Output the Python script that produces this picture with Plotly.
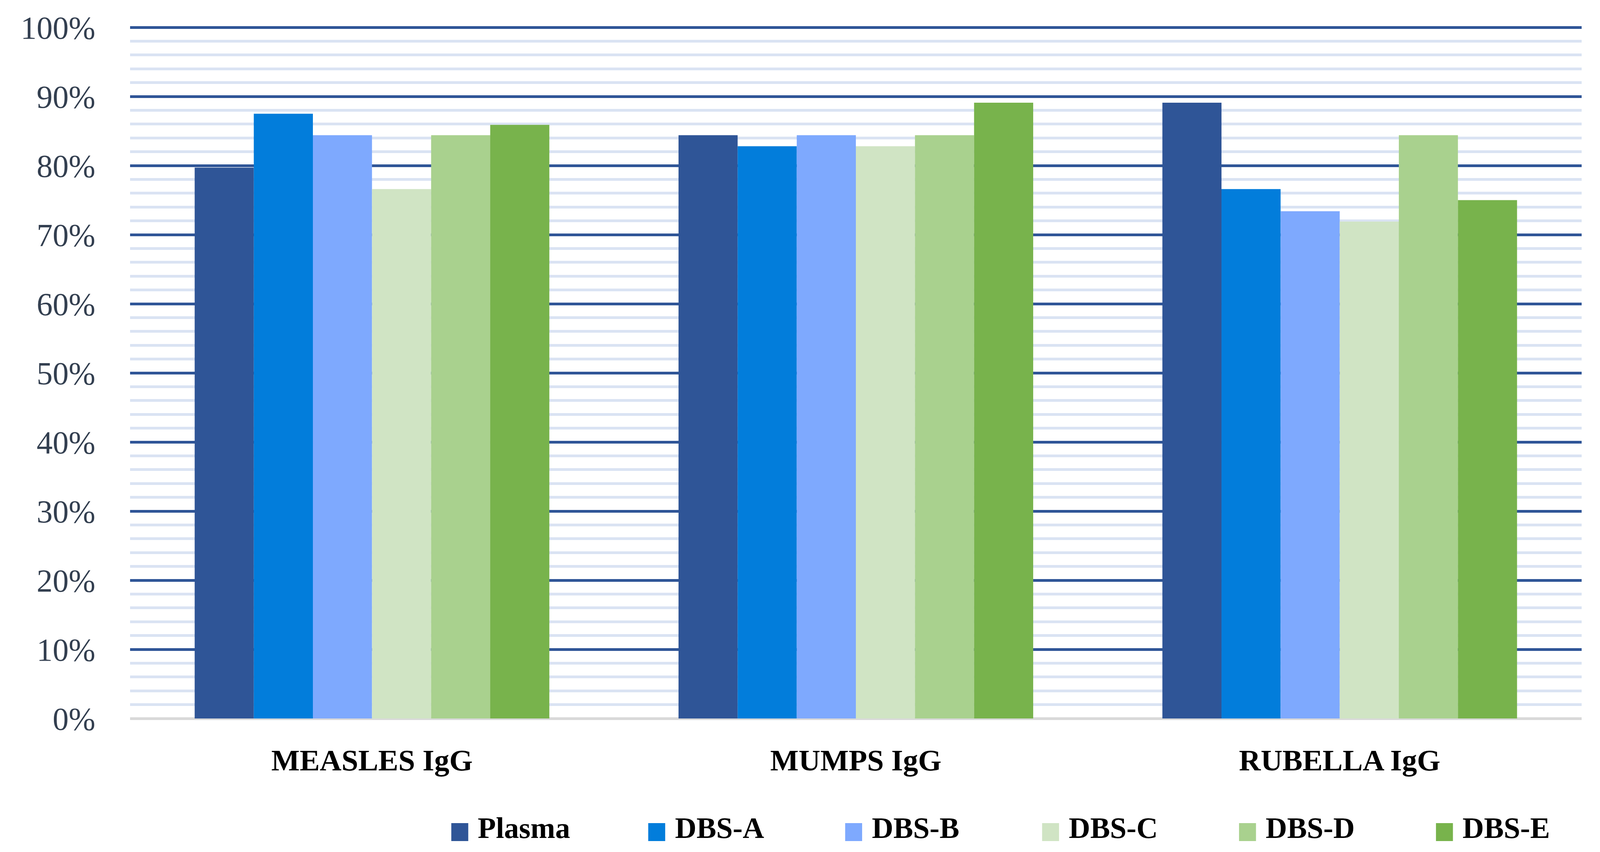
import plotly.graph_objects as go

# ---- data ----
categories = ["MEASLES IgG", "MUMPS IgG", "RUBELLA IgG"]
series_names = ["Plasma", "DBS-A", "DBS-B", "DBS-C", "DBS-D", "DBS-E"]
plasma = [0.797, 0.844, 0.891]
dbs_a = [0.875, 0.828, 0.766]
dbs_b = [0.844, 0.844, 0.734]
dbs_c = [0.766, 0.828, 0.719]
dbs_d = [0.844, 0.844, 0.844]
dbs_e = [0.859, 0.891, 0.750]
series_values = [plasma, dbs_a, dbs_b, dbs_c, dbs_d, dbs_e]
colors = ["#2F5597", "#027DDB", "#7EA9FE", "#D0E4C4", "#A9D18E", "#78B34C"]

W, H = 4316, 2182          # design size (reference)
YMAX = 1.004
ML, MR, MT, MB = 333, 47, 63, 342
PW = W - ML - MR
PH = H - MT - MB
SERIF = "Liberation Serif, Times New Roman, serif"

fig = go.Figure()
for name, vals, col in zip(series_names, series_values, colors):
    fig.add_trace(go.Bar(
        name=name, x=categories, y=vals,
        marker=dict(color=col, line=dict(width=0)),
        showlegend=False,
    ))

# custom legend (large square swatches) in paper coordinates
leg_x0 = 1204   # px of first swatch left edge (design size)
leg_step = 534  # px between entries
sw = 46
leg_cy = 2131
for i, (name, col) in enumerate(zip(series_names, colors)):
    x0 = (leg_x0 + leg_step * i - ML) / PW
    x1 = (leg_x0 + leg_step * i + sw - ML) / PW
    y0 = (H - MB - (leg_cy + sw / 2)) / PH
    y1 = (H - MB - (leg_cy - sw / 2)) / PH
    fig.add_shape(type="rect", xref="paper", yref="paper",
                  x0=x0, x1=x1, y0=y0, y1=y1,
                  fillcolor=col, line=dict(width=0))
    fig.add_annotation(xref="paper", yref="paper",
                       x=(leg_x0 + leg_step * i + 70 - ML) / PW,
                       y=(H - MB - (leg_cy - 11)) / PH,
                       xanchor="left", yanchor="middle", showarrow=False,
                       text=name,
                       font=dict(family=SERIF, size=76, color="black", weight="bold"))

fig.update_layout(
    autosize=True,
    margin=dict(l=ML, r=MR, t=MT, b=MB),
    paper_bgcolor="white", plot_bgcolor="white",
    barmode="group", bargap=0.267, bargroupgap=0,
    showlegend=False,
    xaxis=dict(
        showgrid=False, showline=False, ticks="", zeroline=False,
        tickfont=dict(family=SERIF, size=77, color="black", weight="bold"),
        ticklabelstandoff=55,
    ),
    yaxis=dict(
        range=[0, YMAX], tickvals=[i / 10 for i in range(11)], tickformat=".0%",
        showgrid=True, gridcolor="#2F5597", gridwidth=7,
        minor=dict(dtick=0.02, showgrid=True, gridcolor="#DAE3F3", gridwidth=7),
        zeroline=True, zerolinecolor="#D9D9D9", zerolinewidth=7,
        showline=False, ticks="",
        tickfont=dict(family=SERIF, size=82, color="#333F50"),
        ticklabelstandoff=88,
    ),
)

fig.write_html(
    "out.html",
    config={"displayModeBar": False, "responsive": True},
    default_width="100vw",
    default_height="100vh",
    post_script=(
        "document.body.style.margin='0';"
        "document.body.style.overflow='hidden';"
        "Plotly.Plots.resize(document.getElementById('{plot_id}'));"
    ),
)
